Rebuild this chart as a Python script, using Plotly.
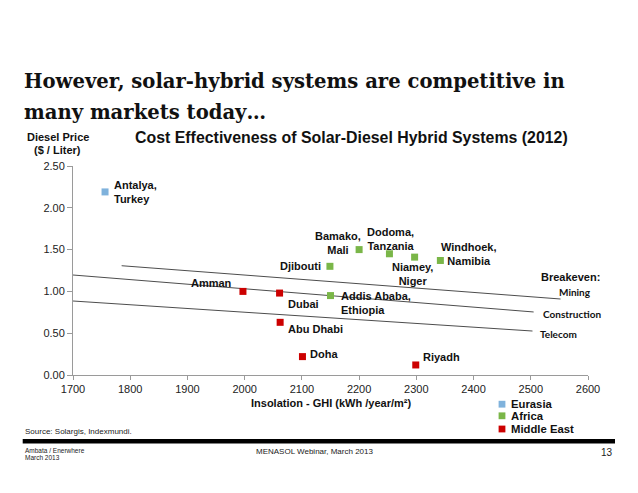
import plotly.graph_objects as go

# ---------------- data ----------------
regions = ["Eurasia", "Africa", "Middle East"]
region_colors = ["#7FB2DC", "#7AB648", "#CC0000"]

cities = ["Antalya,<br>Turkey", "Bamako,<br>Mali", "Dodoma,<br>Tanzania", "Niamey,<br>Niger",
          "Windhoek,<br>Namibia", "Djibouti", "Addis Ababa,<br>Ethiopia", "Amman", "Dubai",
          "Abu Dhabi", "Doha", "Riyadh"]
city_region = ["Eurasia", "Africa", "Africa", "Africa", "Africa", "Africa", "Africa",
               "Middle East", "Middle East", "Middle East", "Middle East", "Middle East"]
insolation = [1756, 2200, 2253, 2297, 2342, 2149, 2150, 1997, 2061, 2062, 2101, 2299]
diesel_price = [2.19, 1.50, 1.45, 1.41, 1.37, 1.30, 0.95, 1.00, 0.98, 0.63, 0.22, 0.12]

breakeven_names = ["Mining", "Construction", "Telecom"]
breakeven_x = [[1785, 2552], [1700, 2505], [1700, 2503]]
breakeven_y = [[1.307, 0.909], [1.196, 0.754], [0.885, 0.526]]

x_ticks = [1700, 1800, 1900, 2000, 2100, 2200, 2300, 2400, 2500, 2600]
y_ticks = [0.0, 0.5, 1.0, 1.5, 2.0, 2.5]

# ---------------- layout helpers ----------------
W, H = 638, 493
L, R, T, B = 73, 50, 166, 118
PW, PH = W - L - R, H - T - B


def px(x):
    return (x - L) / PW


def py(y):
    return (H - B - y) / PH


SANS = "Liberation Sans, Arial, sans-serif"

fig = go.Figure()

for name, xs, ys in zip(breakeven_names, breakeven_x, breakeven_y):
    fig.add_trace(go.Scatter(x=xs, y=ys, mode="lines", name=name,
                             line=dict(color="#4d4d4d", width=1), showlegend=False,
                             hoverinfo="skip"))

for reg, col in zip(regions, region_colors):
    xs = [x for x, r in zip(insolation, city_region) if r == reg]
    ys = [y for y, r in zip(diesel_price, city_region) if r == reg]
    fig.add_trace(go.Scatter(x=xs, y=ys, mode="markers", name=reg, showlegend=False,
                             marker=dict(symbol="square", size=7, color=col,
                                         line=dict(width=0))))

# label placement: (xshift, yshift, xanchor, align)
label_place = [
    (7, 0, "left", "left"),
    (-21, 7, "center", "center"),
    (2, 15, "center", "center"),
    (-2, -17, "center", "center"),
    (29, 6, "center", "center"),
    (-7, 0, "right", "right"),
    (8, -7, "left", "left"),
    (-9, 8, "right", "right"),
    (6, -11, "left", "left"),
    (6, -7, "left", "left"),
    (6, 3, "left", "left"),
    (5, 8, "left", "left"),
]

annotations = []
for name, x, y, (xs, ys, xa, al) in zip(cities, insolation, diesel_price, label_place):
    annotations.append(dict(x=x, y=y, xref="x", yref="y", text="<b>%s</b>" % name,
                            showarrow=False, xshift=xs, yshift=ys, xanchor=xa,
                            yanchor="middle", align=al,
                            font=dict(family=SANS, size=11, color="#111111")))

# breakeven labels
annotations.append(dict(x=px(539), y=py(276.7), xref="paper", yref="paper",
                        text="<b>Breakeven:</b>", showarrow=False, xanchor="left",
                        yanchor="middle", font=dict(family=SANS, size=11, color="#111111")))
be_pos = [(556.7, 292.3), (541, 314.3), (538, 333.7)]
for name, (lx, ly) in zip(breakeven_names, be_pos):
    annotations.append(dict(x=px(lx), y=py(ly), xref="paper", yref="paper",
                            text="<b>%s</b>" % name, showarrow=False, xanchor="left",
                            yanchor="middle",
                            font=dict(family="Lato, Open Sans, sans-serif", size=10,
                                      color="#111111")))

# titles
annotations += [
    dict(x=px(22), y=py(82), xref="paper", yref="paper",
         text="<b>However, solar-hybrid systems are competitive in</b>", showarrow=False,
         xanchor="left", yanchor="middle",
         font=dict(family="DejaVu Serif, serif", size=19.6, color="#111111")),
    dict(x=px(22), y=py(112.5), xref="paper", yref="paper",
         text="<b>many markets today…</b>", showarrow=False,
         xanchor="left", yanchor="middle",
         font=dict(family="DejaVu Serif, serif", size=19.6, color="#111111")),
    dict(x=px(132.5), y=py(137.5), xref="paper", yref="paper",
         text="<b>Cost Effectiveness of Solar-Diesel Hybrid Systems (2012)</b>",
         showarrow=False, xanchor="left", yanchor="middle",
         font=dict(family=SANS, size=15.9, color="#111111")),
    dict(x=px(57.7), y=py(137.5), xref="paper", yref="paper", text="<b>Diesel Price</b>",
         showarrow=False, xanchor="center", yanchor="middle",
         font=dict(family=SANS, size=11, color="#111111")),
    dict(x=px(57.7), y=py(150), xref="paper", yref="paper", text="<b>($ / Liter)</b>",
         showarrow=False, xanchor="center", yanchor="middle",
         font=dict(family=SANS, size=11, color="#111111")),
    dict(x=px(330.5), y=py(402.7), xref="paper", yref="paper",
         text="<b>Insolation - GHI (kWh /year/m²)</b>",
         showarrow=False, xanchor="center", yanchor="middle",
         font=dict(family=SANS, size=11, color="#111111")),
    dict(x=px(23), y=py(431), xref="paper", yref="paper", text="Source: Solargis, Indexmundi.",
         showarrow=False, xanchor="left", yanchor="middle",
         font=dict(family=SANS, size=8, color="#222222")),
    dict(x=px(22.5), y=py(450.3), xref="paper", yref="paper", text="Ambata / Enerwhere",
         showarrow=False, xanchor="left", yanchor="middle",
         font=dict(family=SANS, size=6.5, color="#222222")),
    dict(x=px(22.5), y=py(457.7), xref="paper", yref="paper", text="March 2013",
         showarrow=False, xanchor="left", yanchor="middle",
         font=dict(family=SANS, size=6.5, color="#222222")),
    dict(x=px(314), y=py(451), xref="paper", yref="paper", text="MENASOL Webinar, March 2013",
         showarrow=False, xanchor="center", yanchor="middle",
         font=dict(family=SANS, size=8, color="#222222")),
    dict(x=px(614.5), y=py(452), xref="paper", yref="paper", text="13",
         showarrow=False, xanchor="right", yanchor="middle",
         font=dict(family=SANS, size=10, color="#222222")),
]

# manual legend
shapes = []
leg_y = [404.2, 415.8, 429.0]
for reg, col, ly in zip(regions, region_colors, leg_y):
    shapes.append(dict(type="rect", xref="paper", yref="paper",
                       x0=px(498.6), x1=px(505.4), y0=py(ly + 3.4), y1=py(ly - 3.4),
                       fillcolor=col, line=dict(width=0)))
    annotations.append(dict(x=px(508.5), y=py(ly), xref="paper", yref="paper",
                            text="<b>%s</b>" % reg, showarrow=False, xanchor="left",
                            yanchor="middle", font=dict(family=SANS, size=11.3,
                                                        color="#111111")))

# footer bar
shapes.append(dict(type="rect", xref="paper", yref="paper",
                   x0=px(22.7), x1=px(615), y0=py(443.5), y1=py(439),
                   fillcolor="#000000", line=dict(width=0)))

fig.update_layout(
    width=W, height=H,
    margin=dict(l=L, r=R, t=T, b=B, pad=0),
    paper_bgcolor="white", plot_bgcolor="white",
    showlegend=False,
    annotations=annotations,
    shapes=shapes,
    xaxis=dict(range=[1700, 2600], tickvals=x_ticks, ticktext=[str(v) for v in x_ticks],
               showgrid=False, zeroline=False, showline=True, linecolor="#9a9a9a",
               linewidth=1, ticks="outside", ticklen=4, tickcolor="#9a9a9a",
               tickfont=dict(family=SANS, size=11, color="#222222")),
    yaxis=dict(range=[0, 2.5], tickvals=y_ticks, ticktext=["%.2f" % v for v in y_ticks],
               showgrid=False, zeroline=False, showline=True, linecolor="#9a9a9a",
               linewidth=1, ticks="outside", ticklen=5, tickcolor="#9a9a9a",
               tickfont=dict(family=SANS, size=11, color="#222222")),
)

fig.write_html("out.html")
